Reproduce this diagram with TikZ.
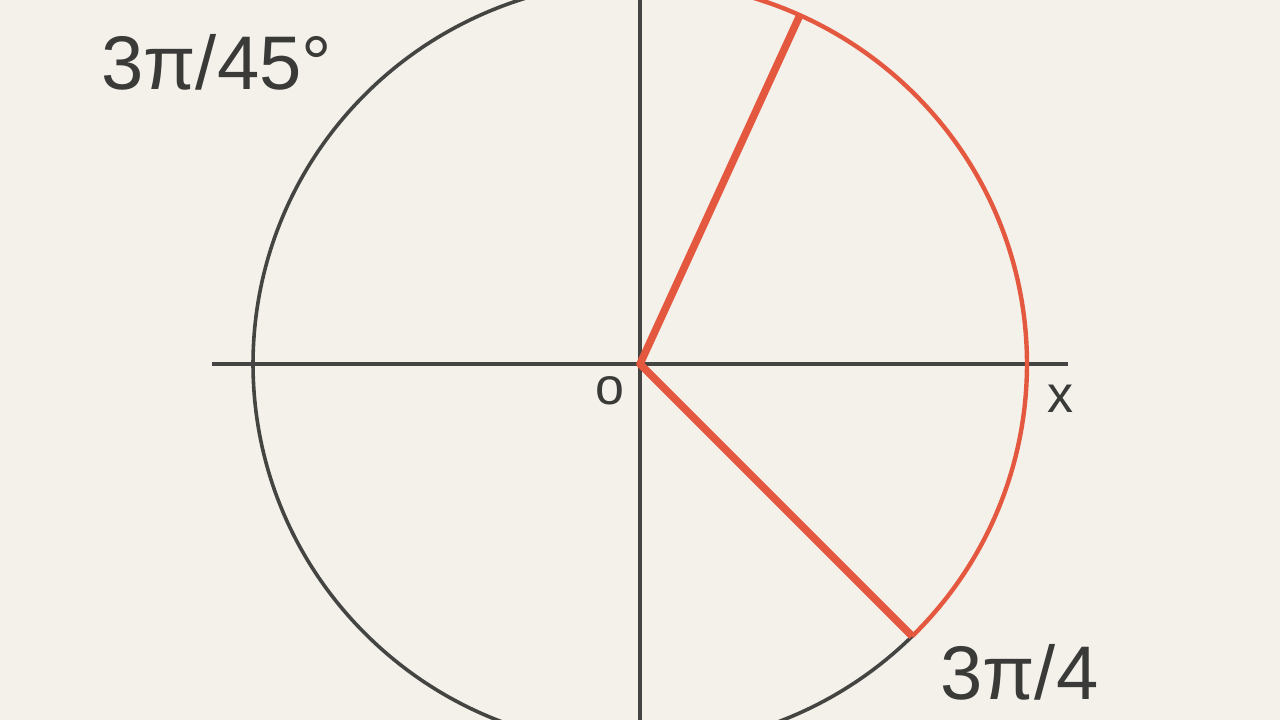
\documentclass[tikz,border=0pt]{standalone}
\usepackage{fontspec}
\setmainfont{Liberation Sans}
\usetikzlibrary{calc}
\definecolor{bgc}{RGB}{243,241,234}
\definecolor{ink}{RGB}{68,68,66}
\definecolor{txt}{RGB}{58,58,56}
\definecolor{redc}{RGB}{229,88,64}
\tikzset{
  axisline/.style={draw=ink, line width=3.8pt},
  circline/.style={draw=ink, line width=3.6pt},
  redarc/.style={draw=redc, line width=4.4pt},
  redrad/.style={draw=redc, line width=7.5pt, line join=round},
  biglabel/.style={font=\fontsize{76}{82}\selectfont, text=txt, inner sep=0pt},
  smalllabel/.style={font=\fontsize{52}{56}\selectfont, text=txt, inner sep=0pt}
}
\begin{document}
\begin{tikzpicture}[x=1pt,y=1pt]
\fill[bgc] (0,0) rectangle (1280,720);
\useasboundingbox (0,0) rectangle (1280,720);
\clip (0,0) rectangle (1280,720);
\coordinate (O) at (640,356);
\coordinate (L) at (212,356);
\coordinate (R) at (1068,356);
\coordinate (T) at (640,720);
\coordinate (Bt) at (640,0);
\coordinate (A) at ($(O)+(65.6:387 and 383)$);
\coordinate (B) at ($(O)+(-45.3:387 and 383)$);
% axes
\draw[axisline] (L) -- (R);
\draw[axisline] (Bt) -- (T);
% black part of circle
\draw[circline] (B) arc[start angle=-45.3, end angle=-280, x radius=387, y radius=383];
% red arc
\draw[redarc] (B) arc[start angle=-45.3, end angle=80, x radius=387, y radius=383];
% red radii
\draw[redrad] (A) -- (O) -- (B);
% labels
\node[biglabel, anchor=base west] (t1) at (101,630) {3π/45°};
\node[biglabel, anchor=base west] (t2) at (940,20) {3π/4};
\node[smalllabel, anchor=base] (o) at (610,315) {o};
\node[smalllabel, anchor=base] (x) at (1060,307) {x};
\end{tikzpicture}
\end{document}
